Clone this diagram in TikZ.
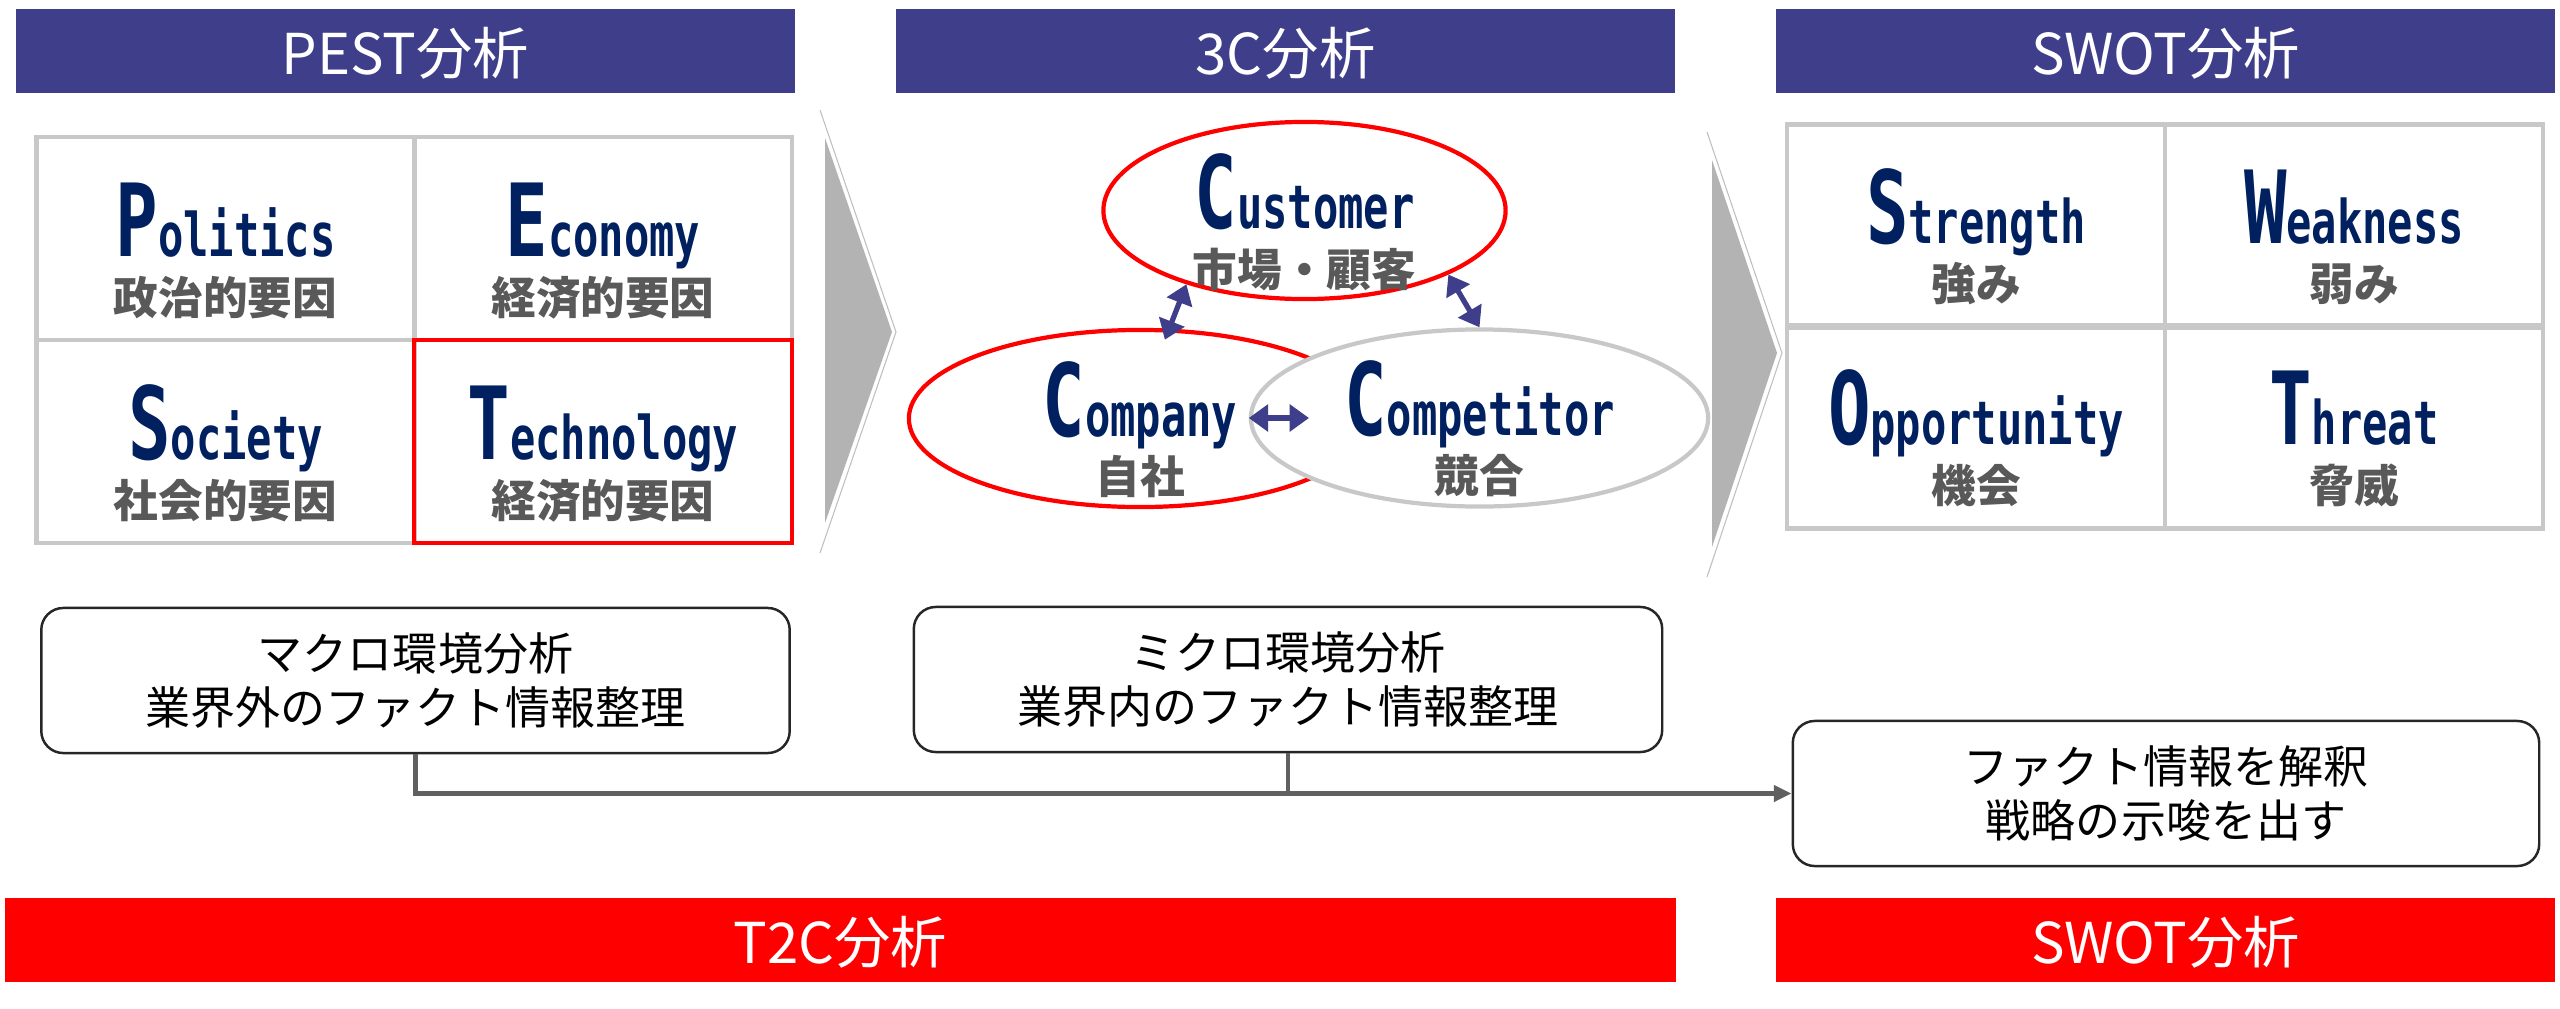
\documentclass[tikz,border=0pt]{standalone}
\usepackage{fontspec}
\usepackage{tikz}
\usetikzlibrary{shapes.geometric,arrows.meta}
\setmainfont{Noto Sans CJK JP}
\newfontfamily\capfont[FakeStretch=0.7]{DejaVu Sans Mono}
\definecolor{hdrblue}{RGB}{62,62,139}
\definecolor{navy}{HTML}{002060}
\definecolor{txtgray}{HTML}{595959}
\definecolor{gridgray}{HTML}{C8C8C8}
\definecolor{chevgray}{HTML}{B3B3B3}
\definecolor{flowgray}{HTML}{606060}
\newcommand{\ini}[2]{{\fontsize{28.7}{30}\selectfont #1}{\fontsize{17.1}{20}\selectfont #2}}

\begin{document}
\begin{tikzpicture}[x=0.01cm,y=-0.01cm,
  hdr/.style={fill=hdrblue,text=white,text depth=0pt,minimum width=7.79cm,minimum height=0.84cm,font=\fontsize{16}{19}\selectfont},
  bar/.style={fill=red,text=white,text depth=0pt,minimum height=0.84cm,font=\fontsize{16}{19}\selectfont},
  cell/.style={draw=gridgray,line width=1.3pt,minimum width=3.78cm,minimum height=2.03cm},
  word/.style={anchor=base,text=navy,font=\capfont\bfseries},
  jp/.style={text=txtgray,font=\fontsize{12.7}{15}\selectfont\bfseries},
  oval/.style={ellipse,draw=red,fill=white,line width=1.2pt,minimum height=1.77cm},
  dbl/.style={{Triangle[length=5.5pt,width=7.5pt]}-{Triangle[length=5.5pt,width=7.5pt]},draw=hdrblue,line width=1.5pt},
  note/.style={draw=black!85,rounded corners=0.22cm,line width=0.7pt,minimum width=7.48cm,minimum height=1.45cm,align=center,font=\fontsize{12.8}{15.6}\selectfont},
  flow/.style={draw=flowgray,line width=1.3pt,-{Triangle[length=5pt,width=4.5pt]}}]
\useasboundingbox (0,0) rectangle (2560,1009);

% headers
\node[hdr] (pesth) at (405.5,51) {PEST分析};
\node[hdr] (tch) at (1285.5,51) {3C分析};
\node[hdr] (swh) at (2165.5,51) {SWOT分析};

% PEST
\node[cell] (pol) at (225.5,238.5) {};
\node[cell] (eco) at (603,238.5) {};
\node[cell] (soc) at (225.5,441.5) {};
\node[cell,draw=red] (tec) at (603,441.5) {};
\node[word] (polw) at ([yshift=-0.175cm]pol.center) {\ini{P}{olitics}};
\node[jp] (polj) at ([yshift=-0.59cm]pol.center) {政治的要因};
\node[word] (ecow) at ([yshift=-0.175cm]eco.center) {\ini{E}{conomy}};
\node[jp] (ecoj) at ([yshift=-0.59cm]eco.center) {経済的要因};
\node[word] (socw) at ([yshift=-0.175cm]soc.center) {\ini{S}{ociety}};
\node[jp] (socj) at ([yshift=-0.59cm]soc.center) {社会的要因};
\node[word] (tecw) at ([yshift=-0.175cm]tec.center) {\ini{T}{echnology}};
\node[jp] (tecj) at ([yshift=-0.59cm]tec.center) {経済的要因};

% chevrons
\draw[gray!50,fill=white,line width=0.3pt] (820,110) -- (896,332) -- (820,553);
\fill[chevgray] (825,138) -- (892,332) -- (825,523) -- cycle;
\draw[gray!50,fill=white,line width=0.3pt] (1707,132) -- (1782,353) -- (1707,577);
\fill[chevgray] (1712,160) -- (1777,353) -- (1712,547) -- cycle;

% 3C
\node[oval,minimum width=4.02cm] (cust) at (1304.5,210.5) {};
\node[oval,minimum width=4.62cm] (cpny) at (1140,418.5) {};
\node[oval,draw=gridgray,minimum width=4.57cm] (cmpt) at (1479.5,418) {};
\node[word] (custw) at ([yshift=-0.175cm]cust.center) {\ini{C}{ustomer}};
\node[jp] (custj) at ([yshift=-0.585cm]cust.center) {市場・顧客};
\node[word] (cpnyw) at ([yshift=-0.175cm]cpny.center) {\ini{C}{ompany}};
\node[jp] (cpnyj) at ([yshift=-0.575cm]cpny.center) {自社};
\node[word] (cmptw) at ([yshift=-0.175cm]cmpt.center) {\ini{C}{ompetitor}};
\node[jp] (cmptj) at ([yshift=-0.575cm]cmpt.center) {競合};
\coordinate (mid) at (1309,418);
\draw[dbl,shorten >=-0.12cm] (cust.212) -- (cpny.72);
\draw[dbl] (cust.336) -- (cmpt.90);
\draw[dbl] (cmpt.west) -- (mid);

% SWOT
\node[cell] (str) at (1976,226) {};
\node[cell] (wea) at (2354,226) {};
\node[cell] (opp) at (1976,427) {};
\node[cell] (thr) at (2354,427) {};
\node[word] (strw) at ([yshift=-0.175cm]str.center) {\ini{S}{trength}};
\node[jp] (strj) at ([yshift=-0.58cm]str.center) {強み};
\node[word] (weaw) at ([yshift=-0.175cm]wea.center) {\ini{W}{eakness}};
\node[jp] (weaj) at ([yshift=-0.58cm]wea.center) {弱み};
\node[word] (oppw) at ([yshift=-0.175cm]opp.center) {\ini{O}{pportunity}};
\node[jp] (oppj) at ([yshift=-0.58cm]opp.center) {機会};
\node[word] (thrw) at ([yshift=-0.175cm]thr.center) {\ini{T}{hreat}};
\node[jp] (thrj) at ([yshift=-0.58cm]thr.center) {脅威};

% notes and flow
\node[note] (macro) at (415.5,680.5) {マクロ環境分析\\業界外のファクト情報整理};
\node[note] (micro) at (1288,679.5) {ミクロ環境分析\\業界内のファクト情報整理};
\node[note,minimum width=7.46cm] (fact) at (2166,793.5) {ファクト情報を解釈\\戦略の示唆を出す};
\draw[flow] (macro.south) |- (fact.west);
\draw[flow,-] (micro.south) -- (micro.south |- fact.west);

% bottom bars
\node[bar,minimum width=16.7cm] (tcbar) at (840,940) {T2C分析};
\node[bar,minimum width=7.79cm] (swbar) at (2165.5,940) {SWOT分析};
\end{tikzpicture}
\end{document}
